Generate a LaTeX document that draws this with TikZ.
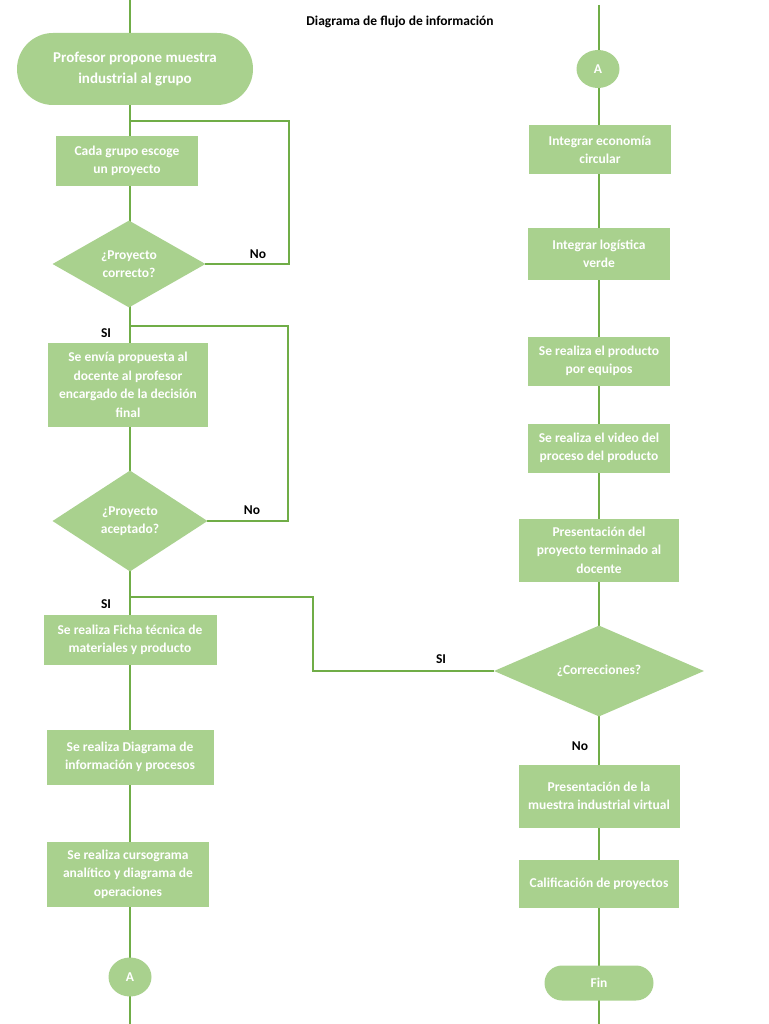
\documentclass[tikz,border=0pt]{standalone}
\usepackage{fontspec}
\setmainfont{Carlito}
\usetikzlibrary{shapes.geometric,shapes.misc}
\definecolor{hoja}{HTML}{A9D18E}
\definecolor{linea}{HTML}{70AD47}
\begin{document}
\begin{tikzpicture}[x=1pt,y=-1pt,
  caja/.style={fill=hoja,text=white,font=\fontsize{13.5}{18.5}\selectfont\bfseries,align=center,inner sep=0pt},
  decision/.style={caja,diamond,aspect=1.7},
  extremo/.style={caja,rounded rectangle},
  conector/.style={caja,ellipse},
  flujo/.style={draw=linea,line width=1.8pt},
  etiqueta/.style={font=\fontsize{13.5}{16}\selectfont\bfseries,inner sep=0pt}]
  	\useasboundingbox (0,0) rectangle (768,1024);
  	\node[etiqueta] (titulo) at (400,22) {Diagrama de flujo de información};
  	\coordinate (topL) at (130,0);
  	\coordinate (botL) at (130,1024);
  	\coordinate (topR) at (599,5);
  	\coordinate (botR) at (599,1024);
  	\coordinate (j1) at (130,121);
  	\coordinate (r1) at (289,121);
  	\coordinate (j2) at (130,326);
  	\coordinate (r2) at (288,326);
  	\coordinate (j3) at (130,597);
  	\coordinate (r3) at (313,597);
  	\draw[flujo] (topL) -- (130,69) -- (botL);
  	\draw[flujo] (topR) -- (botR);
  	\draw[flujo] (j1) -- (r1) |- (205,264);
  	\draw[flujo] (j2) -- (r2) |- (207,521);
  	\draw[flujo] (j3) -- (r3) |- (494,671);
  	\node[extremo,minimum width=236,minimum height=72,font=\fontsize{15}{21}\selectfont\bfseries] (inicio) at (135,69) {Profesor propone muestra\\industrial al grupo};
  	\node[caja,minimum width=142,minimum height=50] (cada) at (127,161) {Cada grupo escoge\\un proyecto};
  	\node[decision,minimum width=153,minimum height=87] (dec1) at (129,264) {¿Proyecto\\correcto?};
  	\node[caja,minimum width=160,minimum height=84] (envia) at (128,385) {Se envía propuesta al\\docente al profesor\\encargado de la decisión\\final};
  	\node[decision,minimum width=155,minimum height=101] (dec2) at (130,521) {¿Proyecto\\aceptado?};
  	\node[caja,minimum width=173,minimum height=50] (ficha) at (130,640) {Se realiza Ficha técnica de\\materiales y producto};
  	\node[caja,minimum width=167,minimum height=55] (diag) at (130,757) {Se realiza Diagrama de\\información y procesos};
  	\node[caja,minimum width=162,minimum height=65] (curso) at (128,874) {Se realiza cursograma\\analítico y diagrama de\\operaciones};
  	\node[conector,minimum width=43,minimum height=39] (conA) at (130,977) {A};
  	\node[conector,minimum width=43,minimum height=38] (conA2) at (598,69) {A};
  	\node[caja,minimum width=142,minimum height=49] (eco) at (600,150) {Integrar economía\\circular};
  	\node[caja,minimum width=142,minimum height=51] (logi) at (599,254) {Integrar logística\\verde};
  	\node[caja,minimum width=142,minimum height=49] (prod) at (599,361) {Se realiza el producto\\por equipos};
  	\node[caja,minimum width=142,minimum height=49] (video) at (599,448) {Se realiza el video del\\proceso del producto};
  	\node[caja,minimum width=160,minimum height=63] (pres) at (599,550) {Presentación del\\proyecto terminado al\\docente};
  	\node[decision,minimum width=210,minimum height=91] (dec3) at (599,671) {¿Correcciones?};
  	\node[caja,minimum width=161,minimum height=63] (virt) at (599,796) {Presentación de la\\muestra industrial virtual};
  	\node[caja,minimum width=160,minimum height=48] (calif) at (599,884) {Calificación de proyectos};
  	\node[extremo,minimum width=109,minimum height=35] (fin) at (599,983) {Fin};
  	\node[etiqueta] (no1) at (258,254) {No};
  	\node[etiqueta] (si1) at (106,333) {SI};
  	\node[etiqueta] (no2) at (252,510) {No};
  	\node[etiqueta] (si2) at (106,604) {SI};
  	\node[etiqueta] (si3) at (441,659) {SI};
  	\node[etiqueta] (no3) at (580,746) {No};
\end{tikzpicture}
\end{document}
